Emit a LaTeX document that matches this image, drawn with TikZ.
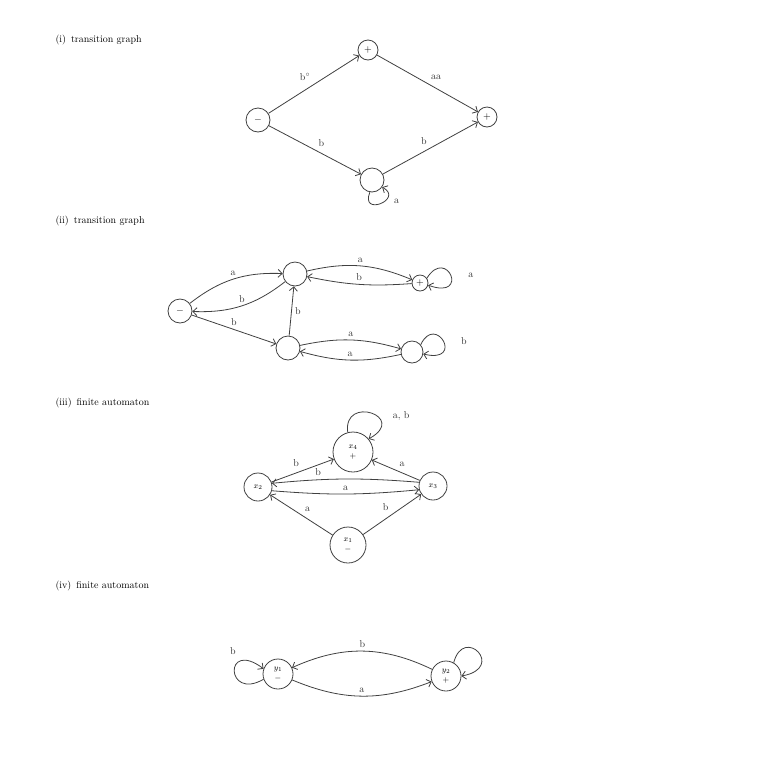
\documentclass[tikz,border=0pt]{standalone}
\usetikzlibrary{arrows.meta}
\begin{document}
\begin{tikzpicture}[x=1pt,y=-1pt,
 st/.style={circle,draw=black!75,thick,inner sep=0pt,font=\normalsize},
 ed/.style={draw=black!75,thick,-{Straight Barb[length=4pt]}},
 lb/.style={font=\normalsize,text=black!80},
 hd/.style={anchor=west,font=\normalsize}]
\useasboundingbox (0,0) rectangle (765,764);
% (i)
\node[hd] (h1) at (52,40) {(i)\enspace transition graph};
\node[st,minimum size=24pt] (m1) at (258,120) {$-$};
\node[st,minimum size=20pt] (t1) at (368,50) {$+$};
\node[st,minimum size=20pt] (r1) at (487,117) {$+$};
\node[st,minimum size=24pt] (b1) at (372,180) {};
\draw[ed] (m1) -- node[lb,above left]{b$^\circ$} (t1);
\draw[ed] (t1) -- node[lb,above right]{aa} (r1);
\draw[ed] (m1) -- node[lb,above right]{b} (b1);
\draw[ed] (b1) -- node[lb,above left]{b} (r1);
\draw[ed] (b1.-100) .. controls +(-10,25) and +(22,12) .. node[lb,right=6pt,pos=0.6]{a} (b1.-35);
% (ii)
\node[hd] (h2) at (52,221) {(ii)\enspace transition graph};
\node[st,minimum size=24pt] (m2) at (180,311) {$-$};
\node[st,minimum size=24pt] (a2) at (295,274) {};
\node[st,minimum size=16pt] (p2) at (420,283) {$+$};
\node[st,minimum size=24pt] (b2) at (288,348) {};
\node[st,minimum size=22pt] (c2) at (412,352) {};
\draw[ed] (m2) to[bend left=20] node[lb,above]{a} (a2);
\draw[ed] (a2) to[bend left=20] node[lb,above]{b} (m2);
\draw[ed] (m2) -- node[lb,above]{b} (b2);
\draw[ed] (b2) -- node[lb,right]{b} (a2);
\draw[ed] (a2) to[bend left=18] node[lb,above]{a} (p2);
\draw[ed] (p2) to[bend left=8] node[lb,above]{b} (a2);
\draw[ed] (p2.35) .. controls +(20,-32) and +(42,15) .. node[lb,right=14pt,pos=0.5]{a} (p2.-15);
\draw[ed] (b2) to[bend left=14] node[lb,above]{a} (c2);
\draw[ed] (c2) to[bend left=14] node[lb,above]{a} (b2);
\draw[ed] (c2.40) .. controls +(15,-32) and +(42,10) .. node[lb,right=14pt,pos=0.5]{b} (c2.-10);
% (iii)
\node[hd] (h3) at (52,403) {(iii)\enspace finite automaton};
\node[st,minimum size=40pt,align=center,font=\footnotesize] (x4) at (353,452) {$x_4$\\[1pt]$+$};
\node[st,minimum size=28pt,font=\footnotesize] (x2) at (258,487) {$x_2$};
\node[st,minimum size=28pt,font=\footnotesize] (x3) at (433,486) {$x_3$};
\node[st,minimum size=36pt,align=center,font=\footnotesize] (x1) at (348,545) {$x_1$\\[1pt]$-$};
\draw[ed] (x4.105) .. controls +(-5,-38) and +(40,-22) .. node[lb,right=12pt,pos=0.6]{a, b} (x4.40);
\draw[ed] (x2) -- node[lb,above left]{b} (x4);
\draw[ed] (x3) -- node[lb,above right]{a} (x4);
\draw[ed] (x3.165) to[bend right=5] node[lb,above,pos=0.7]{b} (x2.15);
\draw[ed] (x2.-15) to[bend right=5] node[lb,above]{a} (x3.-165);
\draw[ed] (x1) -- node[lb,above right]{a} (x2);
\draw[ed] (x1) -- node[lb,above left]{b} (x3);
% (iv)
\node[hd] (h4) at (52,586) {(iv)\enspace finite automaton};
\node[st,minimum size=30pt,align=center,font=\footnotesize] (y1) at (278,674) {$y_1$\\[1pt]$-$};
\node[st,minimum size=30pt,align=center,font=\footnotesize] (y2) at (446,676) {$y_2$\\[1pt]$+$};
\draw[ed] (y2) to[bend right=25] node[lb,above]{b} (y1);
\draw[ed] (y1) to[bend right=22] node[lb,above]{a} (y2);
\draw[ed] (y1.200) .. controls +(-38,22) and +(-40,-30) .. node[lb,above left=2pt,pos=0.75]{b} (y1.160);
\draw[ed] (y2.60) .. controls +(10,-38) and +(45,-8) .. (y2.0);
\end{tikzpicture}
\end{document}
